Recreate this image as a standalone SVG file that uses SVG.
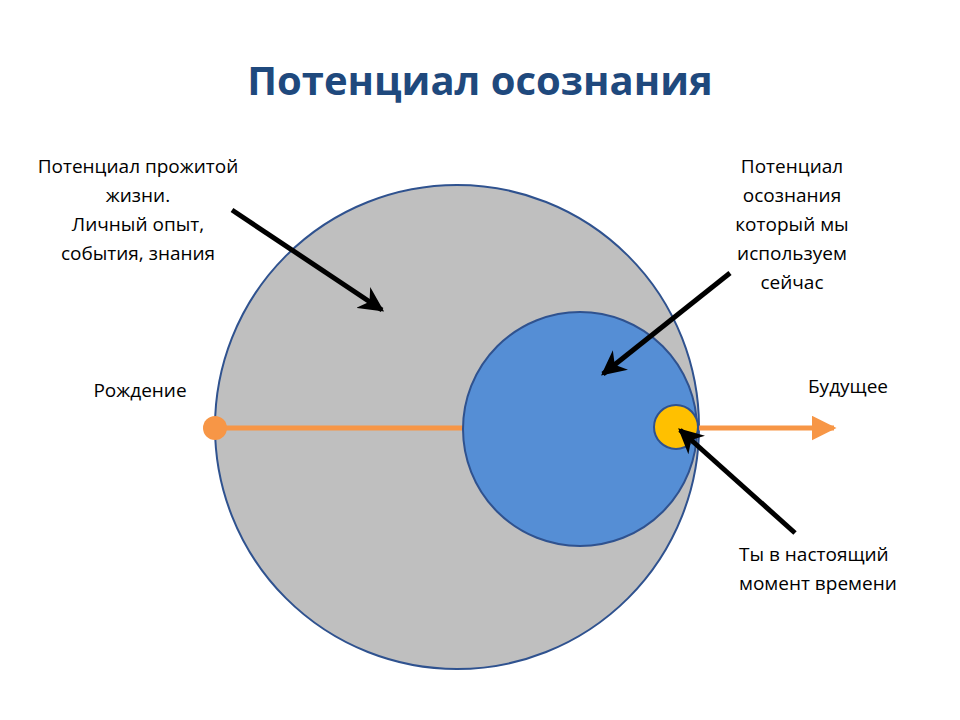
<svg xmlns="http://www.w3.org/2000/svg" width="960" height="720" viewBox="0 0 960 720">
<defs>
<style>
.t{font-family:"Open Sans","Liberation Sans",sans-serif;font-size:19px;fill:#000}
.ar{stroke:#000;stroke-width:5;fill:none}
</style>
<marker id="bk" viewBox="0 0 10 10" refX="9" refY="5" markerWidth="5" markerHeight="5" orient="auto" markerUnits="strokeWidth"><path d="M0,0 L10,5 L0,10 L3,5 Z" fill="#000"/></marker>
<marker id="or" viewBox="0 0 10 10" refX="9" refY="5" markerWidth="5" markerHeight="5" orient="auto" markerUnits="strokeWidth"><path d="M0,0 L10,5 L0,10 Z" fill="#F79646"/></marker>
</defs>
<rect width="960" height="720" fill="#fff"/>
<text x="480" y="95" text-anchor="middle" font-family="'Open Sans','Liberation Sans',sans-serif" font-size="40" font-weight="bold" fill="#1F497D">Потенциал осознания</text>
<g id="big"><circle cx="457" cy="427" r="242" fill="#BFBFBF" stroke="#2F528F" stroke-width="2"/></g>
<g id="connectors">
<line x1="215" y1="428" x2="470" y2="428" stroke="#F79646" stroke-width="5"/>
<line x1="699" y1="428" x2="834" y2="428" stroke="#F79646" stroke-width="5" marker-end="url(#or)"/>
</g>
<g id="birth"><circle cx="215" cy="428" r="12" fill="#F79646"/></g>
<g id="blue"><circle cx="580" cy="429" r="117" fill="#558ED5" stroke="#2F528F" stroke-width="2"/></g>
<g id="now"><circle cx="676" cy="427" r="22" fill="#FFC000" stroke="#2F528F" stroke-width="2"/></g>
<g id="arrows">
<line class="ar" x1="232" y1="210" x2="382" y2="310" marker-end="url(#bk)"/>
<line class="ar" x1="730" y1="273" x2="603" y2="374" marker-end="url(#bk)"/>
<line class="ar" x1="795" y1="533" x2="680" y2="430" marker-end="url(#bk)"/>
</g>
<g id="labels" class="t">
<text class="t" x="138" y="173" text-anchor="middle">Потенциал прожитой</text>
<text class="t" x="138" y="202" text-anchor="middle">жизни.</text>
<text class="t" x="138" y="231" text-anchor="middle">Личный опыт,</text>
<text class="t" x="138" y="260" text-anchor="middle">события, знания</text>
<text class="t" x="792" y="173" text-anchor="middle">Потенциал</text>
<text class="t" x="792" y="202" text-anchor="middle">осознания</text>
<text class="t" x="792" y="231" text-anchor="middle">который мы</text>
<text class="t" x="792" y="260" text-anchor="middle">используем</text>
<text class="t" x="792" y="289" text-anchor="middle">сейчас</text>
<text class="t" x="140" y="397" text-anchor="middle">Рождение</text>
<text class="t" x="848" y="393" text-anchor="middle">Будущее</text>
<text class="t" x="739" y="561">Ты в настоящий</text>
<text class="t" x="739" y="590">момент времени</text>
</g>
</svg>
